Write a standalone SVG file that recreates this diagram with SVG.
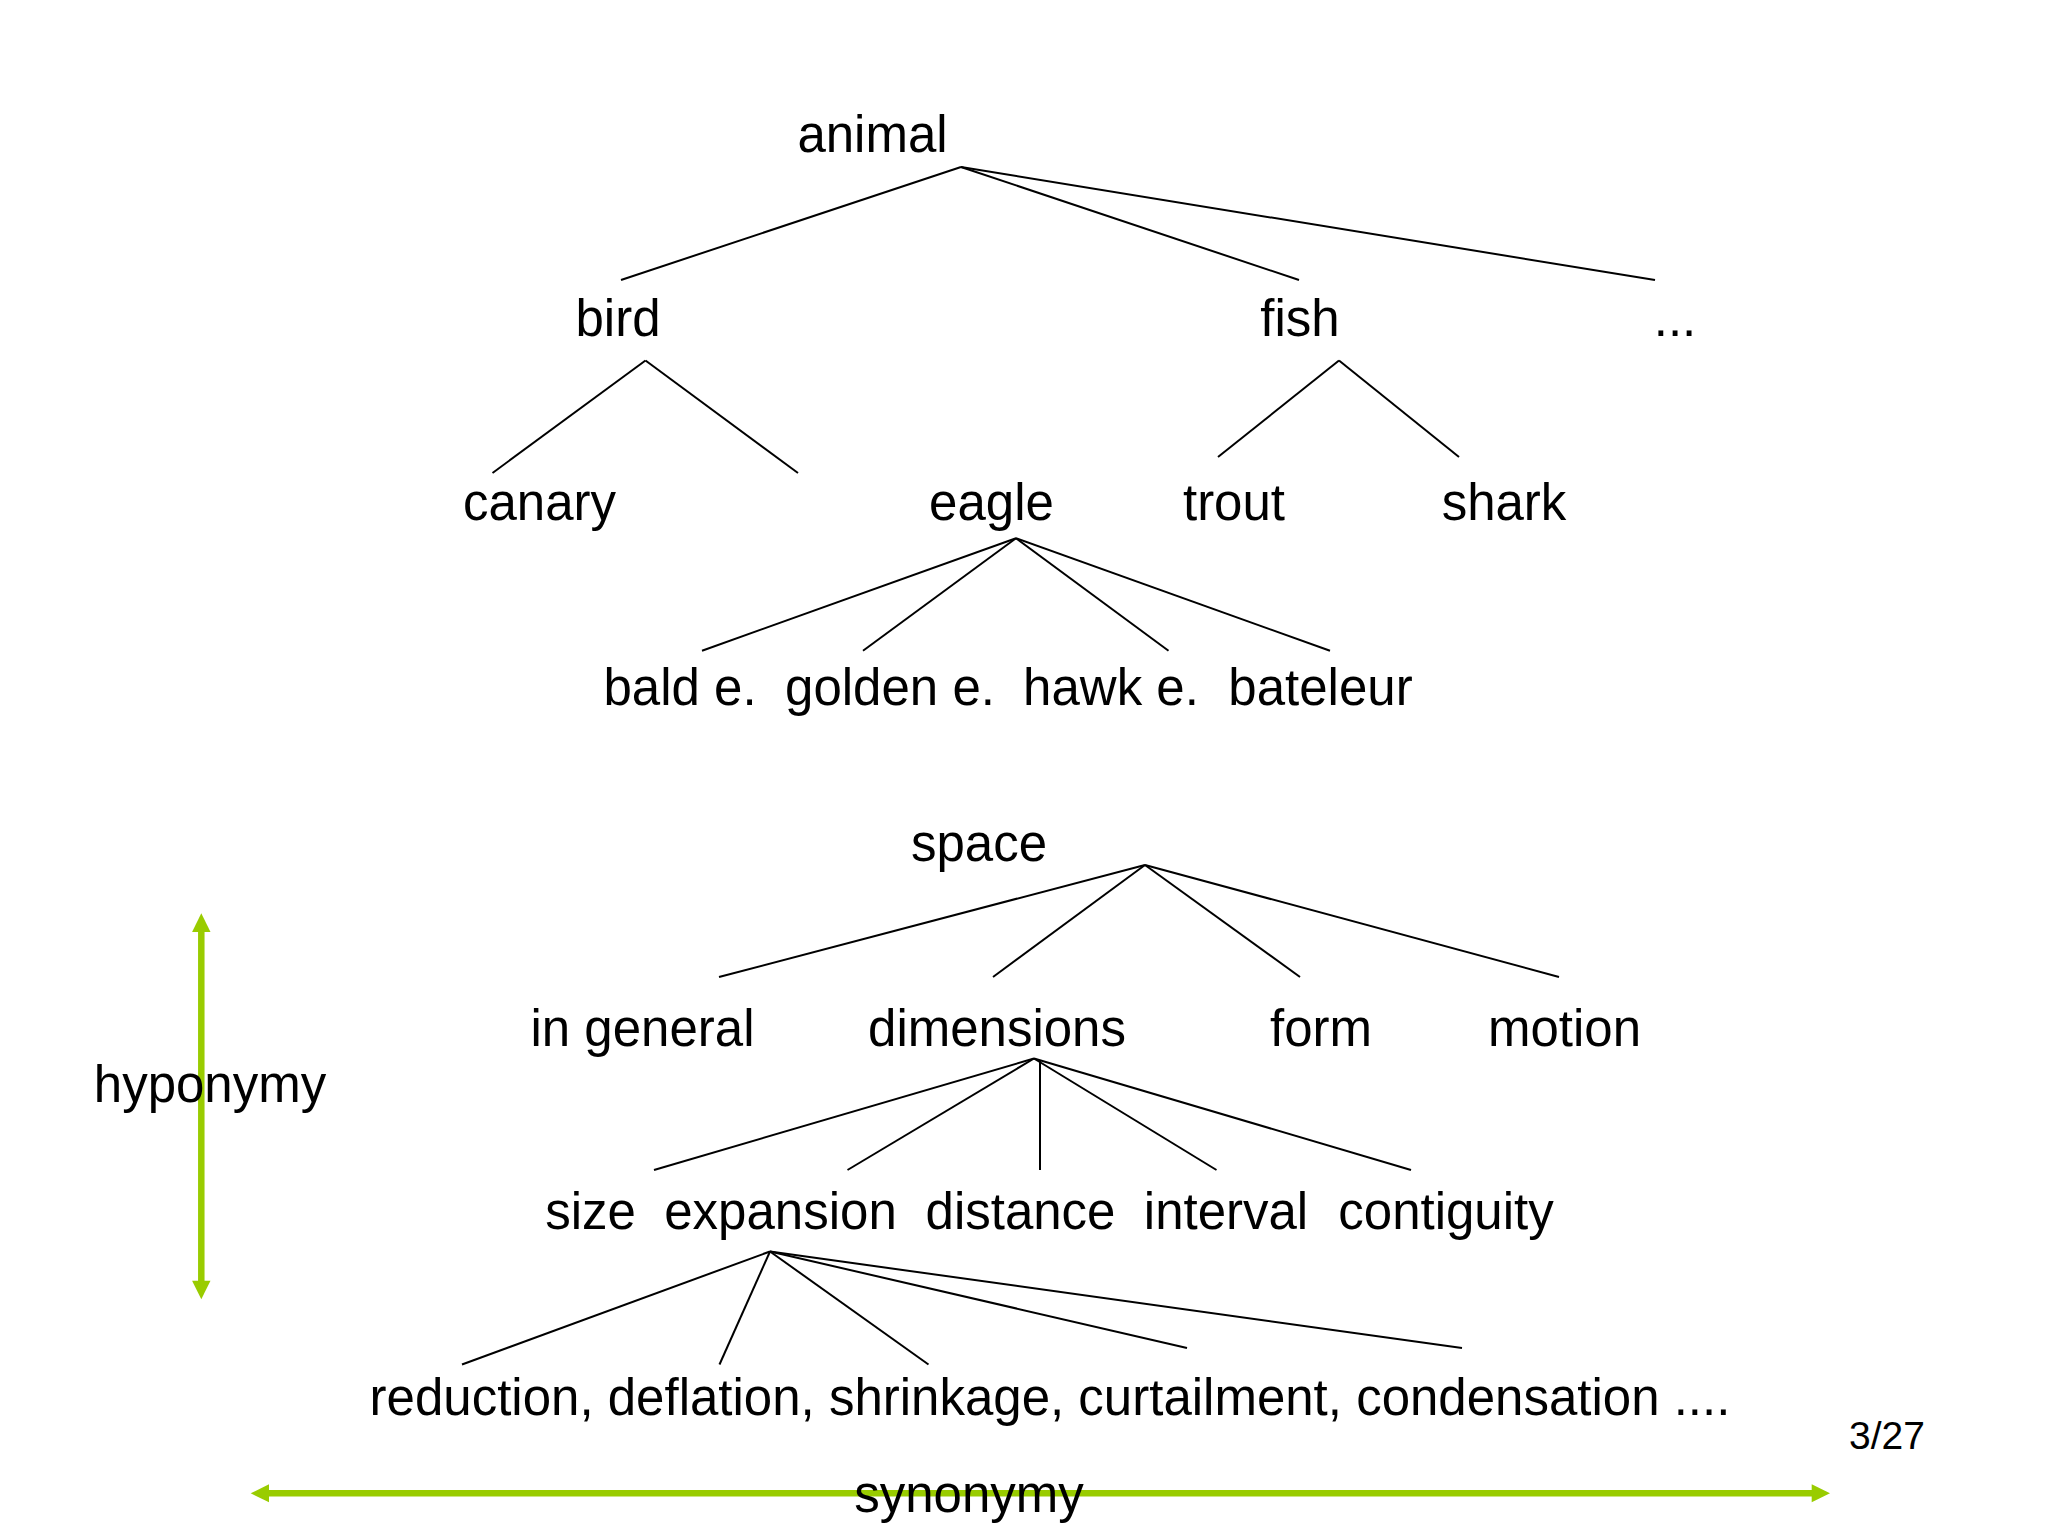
<svg xmlns="http://www.w3.org/2000/svg" width="2048" height="1536" viewBox="0 0 2048 1536">
<defs>
<style>
.t{font-family:"Liberation Sans",Arial,sans-serif;font-size:51px;fill:#000;text-anchor:middle}
.s{font-size:39px}
.e line{stroke:#000;stroke-width:2;stroke-linecap:butt}
.g{stroke:#99CC00;stroke-width:6.5;fill:none}
.gh{fill:#99CC00}
</style>
</defs>
<rect width="2048" height="1536" fill="#fff"/>
<g id="connectors" class="e">
<line x1="961" y1="167" x2="621" y2="280"/>
<line x1="961" y1="167" x2="1299" y2="280"/>
<line x1="961" y1="167" x2="1655" y2="280"/>
<line x1="645.5" y1="360.5" x2="492.5" y2="473"/>
<line x1="645.5" y1="360.5" x2="798" y2="473"/>
<line x1="1339" y1="360.5" x2="1218" y2="457"/>
<line x1="1339" y1="360.5" x2="1459" y2="457"/>
<line x1="1016" y1="538.3" x2="702" y2="650.7"/>
<line x1="1016" y1="538.3" x2="863" y2="650.7"/>
<line x1="1016" y1="538.3" x2="1168.5" y2="650.7"/>
<line x1="1016" y1="538.3" x2="1330" y2="650.7"/>
<line x1="1145" y1="865" x2="719" y2="977"/>
<line x1="1145" y1="865" x2="993" y2="977"/>
<line x1="1145" y1="865" x2="1300" y2="977"/>
<line x1="1145" y1="865" x2="1559" y2="977"/>
<line x1="1034" y1="1058.5" x2="654" y2="1170"/>
<line x1="1034" y1="1058.5" x2="847.5" y2="1170"/>
<line x1="1040" y1="1060" x2="1040" y2="1170"/>
<line x1="1034" y1="1058.5" x2="1216.5" y2="1170"/>
<line x1="1034" y1="1058.5" x2="1411" y2="1170"/>
<line x1="770" y1="1251.5" x2="462" y2="1364.5"/>
<line x1="770" y1="1251.5" x2="719.5" y2="1364.5"/>
<line x1="770" y1="1251.5" x2="928.5" y2="1364.5"/>
<line x1="770" y1="1251.5" x2="1187" y2="1348"/>
<line x1="770" y1="1251.5" x2="1462" y2="1348"/>
</g>
<g id="n-animal"><text class="t" x="872.5" y="152">animal</text></g>
<g id="n-bird"><text class="t" x="618" y="336">bird</text></g>
<g id="n-fish"><text class="t" x="1300" y="336">fish</text></g>
<g id="n-more"><text class="t" x="1675" y="336">...</text></g>
<g id="n-canary"><text class="t" x="539.5" y="520">canary</text></g>
<g id="n-eagle"><text class="t" x="991.5" y="520">eagle</text></g>
<g id="n-trout"><text class="t" x="1234" y="520">trout</text></g>
<g id="n-shark"><text class="t" x="1504" y="520">shark</text></g>
<g id="n-bald"><text class="t" x="680" y="705">bald e.</text></g>
<g id="n-golden"><text class="t" x="890" y="705">golden e.</text></g>
<g id="n-hawk"><text class="t" x="1111" y="705">hawk e.</text></g>
<g id="n-bateleur"><text class="t" x="1320.5" y="705">bateleur</text></g>
<g id="n-space"><text class="t" x="979" y="861">space</text></g>
<g id="n-ingeneral"><text class="t" x="642.5" y="1046">in general</text></g>
<g id="n-dimensions"><text class="t" x="997" y="1046">dimensions</text></g>
<g id="n-form"><text class="t" x="1321" y="1046">form</text></g>
<g id="n-motion"><text class="t" x="1564.5" y="1046">motion</text></g>
<g id="n-size"><text class="t" x="590.5" y="1229">size</text></g>
<g id="n-expansion"><text class="t" x="780.5" y="1229">expansion</text></g>
<g id="n-distance"><text class="t" x="1020.5" y="1229">distance</text></g>
<g id="n-interval"><text class="t" x="1226" y="1229">interval</text></g>
<g id="n-contiguity"><text class="t" x="1446" y="1229">contiguity</text></g>
<g id="n-synonyms"><text class="t" x="1050" y="1415">reduction, deflation, shrinkage, curtailment, condensation ....</text></g>
<g id="hyponymy-arrow">
<line class="g" x1="201.3" y1="930" x2="201.3" y2="1282"/>
<polygon class="gh" points="201.3,913.3 210.5,932 192.1,932"/>
<polygon class="gh" points="201.3,1299.3 210.5,1280.7 192.1,1280.7"/>
<text class="t" x="210" y="1102">hyponymy</text>
</g>
<g id="synonymy-arrow">
<line class="g" x1="267" y1="1493.3" x2="1814" y2="1493.3"/>
<polygon class="gh" points="250.7,1493.3 269,1484.3 269,1502.3"/>
<polygon class="gh" points="1830,1493.3 1811.7,1484.3 1811.7,1502.3"/>
<text class="t" x="969" y="1512">synonymy</text>
</g>
<g id="page"><text class="t s" x="1887" y="1449">3/27</text></g>
</svg>
